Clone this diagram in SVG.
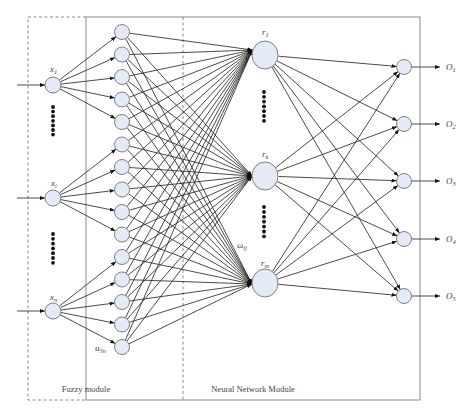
<svg xmlns="http://www.w3.org/2000/svg" width="474" height="417" viewBox="0 0 474 417">
<style>
.box{fill:none;stroke:#8a8a8a;stroke-width:1}
.dash{fill:none;stroke:#8a8a8a;stroke-width:1;stroke-dasharray:3,2.5}
.c line{stroke:#2a2a2a;stroke-width:0.85;marker-end:url(#ah)}
.n{fill:#e4ebf6;stroke:#808080;stroke-width:1}
.t{font-family:"Liberation Serif",serif;font-size:9px;fill:#444;font-style:italic}
.s{font-size:6.5px}
.m{font-family:"Liberation Serif",serif;font-size:8.5px;fill:#444}
.d{fill:#111}
</style>
<defs>
<marker id="ah" markerUnits="userSpaceOnUse" markerWidth="5" markerHeight="4" refX="5" refY="2" orient="auto">
<path d="M0,0 L5,2 L0,4 z" fill="#111"/>
</marker>
</defs>
<rect width="474" height="417" fill="#fff"/>
<g id="modules">
<rect class="box" x="86" y="17" width="334" height="383"/>
<path class="dash" d="M86,17 H28 V400 H86 M183,17 V400"/>
<text class="m" x="86" y="392" text-anchor="middle">Fuzzy module</text>
<text class="m" x="253" y="392" text-anchor="middle">Neural Network Module</text>
</g>
<g class="c" id="connectors">
<line x1="17" y1="85" x2="45" y2="85"/>
<line x1="17" y1="198" x2="45" y2="198"/>
<line x1="17" y1="311" x2="45" y2="311"/>
<line x1="59.3" y1="80.1" x2="116.1" y2="36.6"/>
<line x1="60.3" y1="81.8" x2="115.1" y2="57.5"/>
<line x1="60.9" y1="84.1" x2="114.6" y2="77.9"/>
<line x1="60.8" y1="86.6" x2="114.7" y2="98.0"/>
<line x1="60.0" y1="88.8" x2="115.4" y2="118.5"/>
<line x1="59.3" y1="193.1" x2="116.1" y2="149.1"/>
<line x1="60.3" y1="194.7" x2="115.2" y2="170.1"/>
<line x1="60.9" y1="197.0" x2="114.6" y2="190.4"/>
<line x1="60.8" y1="199.6" x2="114.7" y2="210.5"/>
<line x1="60.1" y1="201.7" x2="115.4" y2="231.0"/>
<line x1="59.3" y1="306.1" x2="116.1" y2="261.6"/>
<line x1="60.3" y1="307.7" x2="115.2" y2="282.6"/>
<line x1="60.9" y1="310.0" x2="114.6" y2="303.0"/>
<line x1="60.9" y1="312.5" x2="114.6" y2="323.1"/>
<line x1="60.1" y1="314.7" x2="115.3" y2="343.5"/>
<line x1="129.4" y1="33.2" x2="252.5" y2="50"/>
<line x1="129.5" y1="54.5" x2="252.5" y2="50"/>
<line x1="129.4" y1="75.9" x2="252.5" y2="50"/>
<line x1="129.2" y1="97.3" x2="252.5" y2="50"/>
<line x1="128.8" y1="118.8" x2="252.5" y2="50"/>
<line x1="128.4" y1="140.5" x2="252.5" y2="50"/>
<line x1="127.9" y1="162.4" x2="252.5" y2="50"/>
<line x1="127.5" y1="184.4" x2="252.5" y2="50"/>
<line x1="127.0" y1="206.5" x2="252.5" y2="50"/>
<line x1="126.7" y1="228.6" x2="252.5" y2="50"/>
<line x1="126.3" y1="250.9" x2="252.5" y2="50"/>
<line x1="126.0" y1="273.2" x2="252.5" y2="50"/>
<line x1="125.8" y1="295.5" x2="252.5" y2="50"/>
<line x1="125.5" y1="317.9" x2="252.5" y2="50"/>
<line x1="125.3" y1="340.3" x2="252.5" y2="50"/>
<line x1="127.3" y1="37.3" x2="252" y2="176"/>
<line x1="127.7" y1="59.4" x2="252" y2="176"/>
<line x1="128.2" y1="81.3" x2="252" y2="176"/>
<line x1="128.6" y1="103.0" x2="252" y2="176"/>
<line x1="129.0" y1="124.6" x2="252" y2="176"/>
<line x1="129.3" y1="146.1" x2="252" y2="176"/>
<line x1="129.5" y1="167.5" x2="252" y2="176"/>
<line x1="129.5" y1="188.8" x2="252" y2="176"/>
<line x1="129.3" y1="210.2" x2="252" y2="176"/>
<line x1="128.9" y1="231.7" x2="252" y2="176"/>
<line x1="128.5" y1="253.3" x2="252" y2="176"/>
<line x1="128.1" y1="275.1" x2="252" y2="176"/>
<line x1="127.6" y1="297.0" x2="252" y2="176"/>
<line x1="127.2" y1="319.1" x2="252" y2="176"/>
<line x1="126.8" y1="341.2" x2="252" y2="176"/>
<line x1="125.7" y1="38.5" x2="252" y2="284"/>
<line x1="126.0" y1="60.9" x2="252" y2="284"/>
<line x1="126.3" y1="83.2" x2="252" y2="284"/>
<line x1="126.6" y1="105.4" x2="252" y2="284"/>
<line x1="127.0" y1="127.6" x2="252" y2="284"/>
<line x1="127.4" y1="149.7" x2="252" y2="284"/>
<line x1="127.8" y1="171.7" x2="252" y2="284"/>
<line x1="128.3" y1="193.6" x2="252" y2="284"/>
<line x1="128.7" y1="215.3" x2="252" y2="284"/>
<line x1="129.1" y1="236.9" x2="252" y2="284"/>
<line x1="129.4" y1="258.3" x2="252" y2="284"/>
<line x1="129.5" y1="279.7" x2="252" y2="284"/>
<line x1="129.4" y1="301.0" x2="252" y2="284"/>
<line x1="129.2" y1="322.4" x2="252" y2="284"/>
<line x1="128.8" y1="343.9" x2="252" y2="284"/>
<line x1="278.4" y1="56.2" x2="396.5" y2="66.4"/>
<line x1="277.1" y1="61.0" x2="397.3" y2="120.7"/>
<line x1="275.0" y1="64.1" x2="398.4" y2="176.0"/>
<line x1="273.1" y1="65.8" x2="399.5" y2="233.0"/>
<line x1="271.7" y1="66.7" x2="400.3" y2="289.5"/>
<line x1="275.6" y1="167.7" x2="398.1" y2="71.6"/>
<line x1="277.6" y1="171.3" x2="397.0" y2="126.6"/>
<line x1="278.5" y1="176.5" x2="396.5" y2="180.7"/>
<line x1="277.3" y1="181.6" x2="397.2" y2="235.9"/>
<line x1="275.2" y1="184.8" x2="398.3" y2="291.1"/>
<line x1="272.3" y1="271.6" x2="399.9" y2="73.3"/>
<line x1="273.9" y1="272.8" x2="399.1" y2="129.6"/>
<line x1="275.9" y1="275.0" x2="398.0" y2="185.4"/>
<line x1="277.9" y1="278.9" x2="396.8" y2="241.3"/>
<line x1="278.4" y1="284.3" x2="396.5" y2="295.3"/>
<line x1="411.5" y1="67" x2="440" y2="67"/>
<line x1="411.5" y1="124" x2="440" y2="124"/>
<line x1="411.5" y1="181" x2="440" y2="181"/>
<line x1="411.5" y1="239" x2="440" y2="239"/>
<line x1="411.5" y1="296" x2="440" y2="296"/>
</g>
<g id="inputs">
<g id="x1"><circle class="n" cx="53" cy="85" r="8"/><text class="t" x="50" y="72">x<tspan class="s" dy="2">1</tspan></text></g>
<g id="xi"><circle class="n" cx="53" cy="198" r="8"/><text class="t" x="51" y="186">x<tspan class="s" dy="2">i</tspan></text></g>
<g id="xn"><circle class="n" cx="53" cy="311" r="8"/><text class="t" x="50" y="300">x<tspan class="s" dy="2">n</tspan></text></g>
</g>
<g id="dots" class="d">
<circle cx="53" cy="107" r="1.9"/><circle cx="53" cy="111.6" r="1.9"/><circle cx="53" cy="116.2" r="1.9"/><circle cx="53" cy="120.8" r="1.9"/><circle cx="53" cy="125.4" r="1.9"/><circle cx="53" cy="130" r="1.9"/><circle cx="53" cy="134.6" r="1.9"/>
<circle cx="53" cy="234" r="1.9"/><circle cx="53" cy="238.8" r="1.9"/><circle cx="53" cy="243.6" r="1.9"/><circle cx="53" cy="248.4" r="1.9"/><circle cx="53" cy="253.2" r="1.9"/><circle cx="53" cy="258" r="1.9"/><circle cx="53" cy="262.8" r="1.9"/>
<circle cx="264" cy="92" r="1.9"/><circle cx="264" cy="96.8" r="1.9"/><circle cx="264" cy="101.6" r="1.9"/><circle cx="264" cy="106.4" r="1.9"/><circle cx="264" cy="111.2" r="1.9"/><circle cx="264" cy="116" r="1.9"/><circle cx="264" cy="120.8" r="1.9"/>
<circle cx="264" cy="207" r="1.9"/><circle cx="264" cy="211.9" r="1.9"/><circle cx="264" cy="216.8" r="1.9"/><circle cx="264" cy="221.7" r="1.9"/><circle cx="264" cy="226.6" r="1.9"/><circle cx="264" cy="231.5" r="1.9"/><circle cx="264" cy="236.4" r="1.9"/>
</g>
<g id="membership">
<circle id="u1" class="n" cx="122" cy="32" r="7.5"/>
<circle id="u2" class="n" cx="122" cy="54.5" r="7.5"/>
<circle id="u3" class="n" cx="122" cy="77" r="7.5"/>
<circle id="u4" class="n" cx="122" cy="99.5" r="7.5"/>
<circle id="u5" class="n" cx="122" cy="122" r="7.5"/>
<circle id="u6" class="n" cx="122" cy="144.5" r="7.5"/>
<circle id="u7" class="n" cx="122" cy="167" r="7.5"/>
<circle id="u8" class="n" cx="122" cy="189.5" r="7.5"/>
<circle id="u9" class="n" cx="122" cy="212" r="7.5"/>
<circle id="u10" class="n" cx="122" cy="234.5" r="7.5"/>
<circle id="u11" class="n" cx="122" cy="257" r="7.5"/>
<circle id="u12" class="n" cx="122" cy="279.5" r="7.5"/>
<circle id="u13" class="n" cx="122" cy="302" r="7.5"/>
<circle id="u14" class="n" cx="122" cy="324.5" r="7.5"/>
<circle id="u15" class="n" cx="122" cy="347" r="7.5"/>
<text class="t" x="95" y="351">u<tspan class="s" dy="2">5n</tspan></text>
</g>
<g id="hidden">
<g id="r1"><ellipse class="n" cx="265" cy="55" rx="13" ry="14"/><text class="t" x="262" y="35">r<tspan class="s" dy="2">1</tspan></text></g>
<g id="rk"><ellipse class="n" cx="265" cy="176" rx="13" ry="14"/><text class="t" x="262" y="157">r<tspan class="s" dy="2">k</tspan></text></g>
<g id="rm"><ellipse class="n" cx="265" cy="283" rx="13" ry="14"/><text class="t" x="261" y="266">r<tspan class="s" dy="2">m</tspan></text></g>
<text class="t" x="237" y="248">ω<tspan class="s" dy="2">ij</tspan></text>
</g>
<g id="outputs">
<g id="o1"><circle class="n" cx="404" cy="67" r="7.5"/><text class="t" x="446" y="70">O<tspan class="s" dy="2">1</tspan></text></g>
<g id="o2"><circle class="n" cx="404" cy="124" r="7.5"/><text class="t" x="446" y="127">O<tspan class="s" dy="2">2</tspan></text></g>
<g id="o3"><circle class="n" cx="404" cy="181" r="7.5"/><text class="t" x="446" y="184">O<tspan class="s" dy="2">3</tspan></text></g>
<g id="o4"><circle class="n" cx="404" cy="239" r="7.5"/><text class="t" x="446" y="242">O<tspan class="s" dy="2">4</tspan></text></g>
<g id="o5"><circle class="n" cx="404" cy="296" r="7.5"/><text class="t" x="446" y="299">O<tspan class="s" dy="2">5</tspan></text></g>
</g>
</svg>
